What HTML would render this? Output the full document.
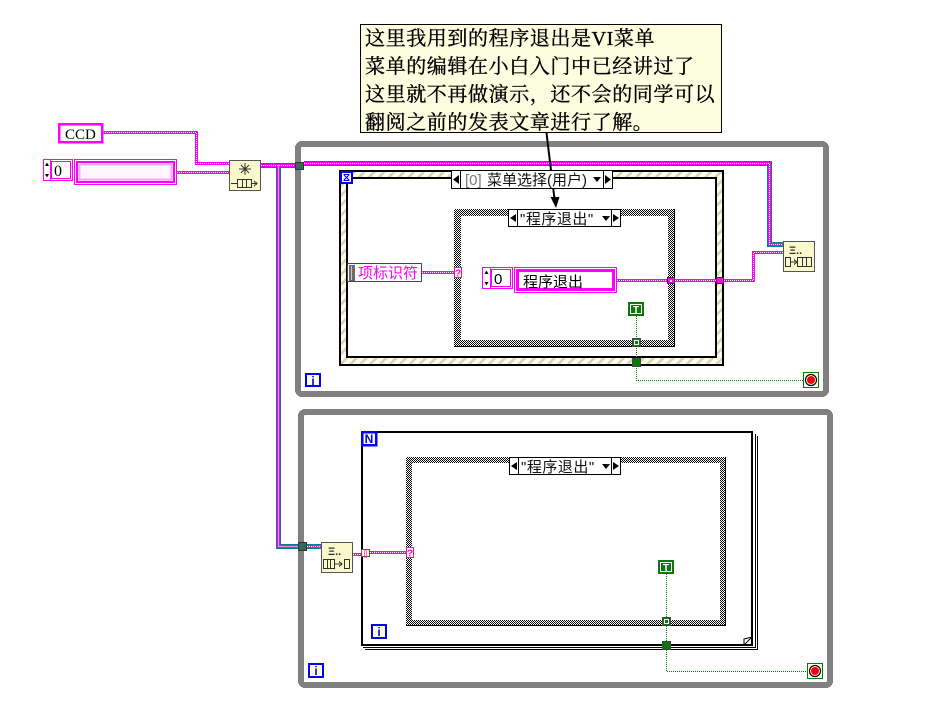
<!DOCTYPE html>
<html><head><meta charset="utf-8">
<style>
html,body{margin:0;padding:0;background:#fff;width:938px;height:727px;overflow:hidden}
svg{display:block}
.s{font-family:"Liberation Sans","Noto Sans CJK SC",sans-serif}
.r{font-family:"Liberation Serif","Noto Serif CJK SC",serif}
</style></head><body>
<svg width="938" height="727" viewBox="0 0 938 727" xmlns="http://www.w3.org/2000/svg" shape-rendering="crispEdges">
<defs>
<pattern id="hatch" width="7" height="7" patternUnits="userSpaceOnUse" patternTransform="rotate(45)">
<rect width="7" height="7" fill="#fefce8"/><rect width="2.5" height="7" fill="#d6d3bc"/>
</pattern>
<pattern id="chk" width="2" height="2" patternUnits="userSpaceOnUse">
<rect width="2" height="2" fill="#fff"/><rect width="1" height="1" fill="#000"/><rect x="1" y="1" width="1" height="1" fill="#000"/>
</pattern>
</defs>

<!-- while loops -->
<rect x="298" y="144" width="528" height="250" rx="4" fill="none" stroke="#808080" stroke-width="6"/>
<rect x="301" y="412" width="529" height="273" rx="4" fill="none" stroke="#808080" stroke-width="6"/>

<!-- event structure -->
<rect x="340" y="171" width="383" height="194" fill="url(#hatch)" stroke="#000" stroke-width="2"/>
<rect x="347" y="178" width="369" height="179" fill="#fff" stroke="#000" stroke-width="2"/>

<!-- inner case (top) -->
<rect x="454" y="209" width="221" height="138" fill="url(#chk)"/>
<rect x="461" y="216" width="207" height="124" fill="#fff"/>
<line x1="674.5" y1="209" x2="674.5" y2="347" stroke="#000"/>
<line x1="454" y1="346.5" x2="675" y2="346.5" stroke="#000"/>

<!-- for loop -->
<polyline points="757.5,436 757.5,649.5 365,649.5" fill="none" stroke="#000"/>
<polyline points="755.5,434 755.5,647.5 363,647.5" fill="none" stroke="#000"/>
<rect x="362" y="432" width="390" height="213" fill="#fff" stroke="#000" stroke-width="2"/>
<path d="M744,645 L752,637 M744,645 L744,639 Q748,638 752,637" fill="none" stroke="#000" shape-rendering="auto"/>

<!-- inner case (bottom) -->
<rect x="406" y="457" width="320" height="169" fill="url(#chk)"/>
<rect x="412" y="463" width="308" height="157" fill="#fff"/>
<line x1="725.5" y1="457" x2="725.5" y2="626" stroke="#000"/>
<line x1="406" y1="625.5" x2="726" y2="625.5" stroke="#000"/>

<!-- queue wires -->
<g fill="none">
<path d="M261,165.5 H296 M304,163.5 H769.5 V244.5 H783 M278.5,165.5 V546.5 H299 M307,546.5 H321" stroke="#008080" stroke-width="5"/>
<path d="M261,165.5 H296 M304,163.5 H769.5 V244.5 H783 M278.5,165.5 V546.5 H299 M307,546.5 H321" stroke="#ff00ff" stroke-width="3"/>
<path d="M261,165.5 H296 M304,163.5 H769.5 V244.5 H783 M278.5,165.5 V546.5 H299 M307,546.5 H321" stroke="#fff" stroke-width="1" stroke-dasharray="1 1"/>
</g>

<!-- string wires -->
<g fill="none">
<path d="M103,132.5 H196.5 V163.5 H229 M177,172.5 H229 M422,272.5 H454 M617,280.5 H667 M675,280.5 H716 M724,280.5 H753.5 V252.5 H783 M353,554.5 H361 M370,552.5 H406" stroke="#ff00ff" stroke-width="3"/>
<path d="M103,132.5 H196.5 V163.5 H229 M177,172.5 H229 M422,272.5 H454 M617,280.5 H667 M675,280.5 H716 M724,280.5 H753.5 V252.5 H783 M353,554.5 H361 M370,552.5 H406" stroke="#fff" stroke-width="1" stroke-dasharray="1 1"/>
</g>

<!-- boolean wires -->
<g fill="none" stroke="#008000" stroke-width="1" stroke-dasharray="1 1">
<path d="M636.5,316 V380.5 H803"/>
<path d="M666.5,574 V671.5 H807"/>
</g>

<!-- comment -->
<rect x="360.5" y="24.5" width="361" height="108" fill="#fdfde0" stroke="#000"/>
<g class="r" font-size="20" fill="#000" stroke="#000" stroke-width="0.35" style="letter-spacing:0.6px">
<text x="365" y="45">这里我用到的程序退出是VI菜单</text>
<text x="365" y="73">菜单的编辑在小白入门中已经讲过了</text>
<text x="365" y="101">这里就不再做演示，还不会的同学可以</text>
<text x="365" y="129">翻阅之前的发表文章进行了解。</text>
</g>
<g shape-rendering="auto">
<line x1="546.5" y1="133" x2="554.5" y2="199" stroke="#000" stroke-width="2"/>
<polygon points="550.5,197 559.5,197 556,208" fill="#000"/>
</g>

<!-- event selector -->
<rect x="451.5" y="170.5" width="161" height="18" fill="#fff" stroke="#000"/>
<line x1="460.5" y1="170" x2="460.5" y2="189" stroke="#000"/>
<line x1="603.5" y1="170" x2="603.5" y2="189" stroke="#000"/>
<g shape-rendering="auto" fill="#000">
<polygon points="459,175 459,184 453,179.5"/>
<polygon points="605,175 605,184 611,179.5"/>
<polygon points="593,177 601,177 597,182"/>
</g>
<text class="s" x="465" y="185" font-size="15" fill="#7a7a7a">[0]</text>
<text class="s" x="487" y="185" font-size="15" fill="#111">菜单选择(用户)</text>

<!-- event hourglass -->
<rect x="341" y="172" width="11" height="11" fill="#fffde0" stroke="#0000ff" stroke-width="2"/>
<path d="M343.5,174.5 H349.5 M343.5,180.5 H349.5 M344,175 L346.5,177.5 L349,175 M344,180 L346.5,177.5 L349,180" stroke="#0000ff" fill="none" shape-rendering="auto"/>

<!-- case selector top -->
<rect x="508.5" y="209.5" width="112" height="17" fill="#fff" stroke="#000"/>
<line x1="517.5" y1="209" x2="517.5" y2="227" stroke="#000"/>
<line x1="611.5" y1="209" x2="611.5" y2="227" stroke="#000"/>
<g shape-rendering="auto" fill="#000">
<polygon points="516,214 516,222 510,218"/>
<polygon points="613,214 613,222 619,218"/>
<polygon points="602,216 610,216 606,221"/>
</g>
<text class="s" x="520" y="224" font-size="15" fill="#111" style="letter-spacing:0.5px">"程序退出"</text>

<!-- case selector bottom -->
<rect x="509.5" y="457.5" width="111" height="17" fill="#fff" stroke="#000"/>
<line x1="518.5" y1="457" x2="518.5" y2="475" stroke="#000"/>
<line x1="611.5" y1="457" x2="611.5" y2="475" stroke="#000"/>
<g shape-rendering="auto" fill="#000">
<polygon points="517,462 517,470 511,466"/>
<polygon points="613,462 613,470 619,466"/>
<polygon points="602,464 610,464 606,469"/>
</g>
<text class="s" x="521" y="472" font-size="15" fill="#111" style="letter-spacing:0.5px">"程序退出"</text>

<!-- 项标识符 -->
<rect x="347.5" y="263.5" width="74" height="18" fill="#fff" stroke="#444"/>
<rect x="349" y="265" width="6" height="16" fill="#6a6a6a"/>
<line x1="351.5" y1="266" x2="351.5" y2="280" stroke="#c8c8c8"/>
<text class="s" x="358" y="278" font-size="15" fill="#ff00ff">项标识符</text>
<rect x="454.5" y="267.5" width="7" height="10" fill="#ffffc8" stroke="#ff00ff"/>
<text class="s" x="458" y="276.5" font-size="10" font-weight="bold" fill="#ff00ff" text-anchor="middle">?</text>

<!-- array constant -->
<rect x="482.5" y="267.5" width="30" height="21" fill="#fff" stroke="#ff00ff"/>
<line x1="490.5" y1="268" x2="490.5" y2="288" stroke="#ff00ff"/>
<g shape-rendering="auto" fill="#000"><polygon points="484.5,274 488.5,274 486.5,270.5"/><polygon points="484.5,282 488.5,282 486.5,285.5"/></g>
<rect x="491.5" y="269.5" width="19" height="17" fill="#fff" stroke="#ff00ff"/>
<text class="s" x="494" y="284" font-size="15" fill="#000">0</text>
<rect x="514.5" y="267.5" width="102" height="25" fill="#fff" stroke="#ff00ff"/>
<rect x="517.5" y="270.5" width="96" height="19" fill="#fff" stroke="#ff00ff" stroke-width="3"/>
<text class="s" x="523" y="287" font-size="15" fill="#000">程序退出</text>

<!-- tunnels string -->
<rect x="667.5" y="277.5" width="7" height="6" fill="#ff00ff" stroke="#333"/>
<rect x="670" y="280" width="2" height="2" fill="#fff"/>
<rect x="716.5" y="277.5" width="7" height="6" fill="#ff00ff" stroke="#333"/>

<!-- queue tunnels -->
<rect x="295.5" y="162.5" width="8" height="7" fill="#1e6e6e" stroke="#333"/>
<rect x="298.5" y="542.5" width="8" height="8" fill="#1e6e6e" stroke="#333"/>

<!-- T constants & bool tunnels -->
<rect x="628" y="302" width="16" height="14" fill="#0b7a0b"/>
<rect x="630.5" y="304.5" width="11" height="9" fill="none" stroke="#fff"/>
<text class="s" x="636" y="313" font-size="10" font-weight="bold" fill="#fff" text-anchor="middle">T</text>
<rect x="632.5" y="338.5" width="8" height="8" fill="#107810" stroke="#444"/>
<rect x="634.5" y="340.5" width="4" height="4" fill="#107810" stroke="#fff"/>
<rect x="632.5" y="358.5" width="8" height="8" fill="#0a7a0a" stroke="#444"/>

<rect x="658" y="560" width="16" height="14" fill="#0b7a0b"/>
<rect x="660.5" y="562.5" width="11" height="9" fill="none" stroke="#fff"/>
<text class="s" x="666" y="571" font-size="10" font-weight="bold" fill="#fff" text-anchor="middle">T</text>
<rect x="662.5" y="617.5" width="8" height="8" fill="#107810" stroke="#444"/>
<rect x="664.5" y="619.5" width="4" height="4" fill="#107810" stroke="#fff"/>
<rect x="662.5" y="641.5" width="8" height="8" fill="#0a7a0a" stroke="#444"/>

<!-- stop terminals -->
<rect x="803.5" y="372.5" width="15" height="15" fill="#fffde8" stroke="#008000"/>
<g shape-rendering="auto"><circle cx="811" cy="380" r="5.5" fill="#fff" stroke="#000" stroke-width="1.2"/><circle cx="811" cy="380" r="4" fill="#f00"/></g>
<rect x="807.5" y="663.5" width="15" height="15" fill="#fffde8" stroke="#008000"/>
<g shape-rendering="auto"><circle cx="815" cy="671" r="5.5" fill="#fff" stroke="#000" stroke-width="1.2"/><circle cx="815" cy="671" r="4" fill="#f00"/></g>

<!-- iteration terminals -->
<rect x="306" y="374" width="14" height="12" fill="#fffde0" stroke="#0000ff" stroke-width="2"/>
<text class="s" x="313" y="385" font-size="12" font-weight="bold" fill="#0000ff" text-anchor="middle">i</text>
<rect x="309" y="664" width="14" height="13" fill="#fffde0" stroke="#0000ff" stroke-width="2"/>
<text class="s" x="316" y="675" font-size="12" font-weight="bold" fill="#0000ff" text-anchor="middle">i</text>
<rect x="372" y="625" width="14" height="13" fill="#fffde0" stroke="#0000ff" stroke-width="2"/>
<text class="s" x="379" y="636" font-size="12" font-weight="bold" fill="#0000ff" text-anchor="middle">i</text>
<rect x="362" y="432" width="14" height="13" fill="#fffde0" stroke="#0000ff" stroke-width="2.5"/>
<text class="s" x="369" y="443" font-size="12" font-weight="bold" fill="#0000ff" text-anchor="middle">N</text>

<!-- for loop tunnels -->
<rect x="361.5" y="549.5" width="8" height="7" fill="#ffffc8" stroke="#555"/>
<text class="s" x="365.5" y="556" font-size="7" fill="#ff00ff" text-anchor="middle">[]</text>
<rect x="406.5" y="547.5" width="7" height="10" fill="#ffffc8" stroke="#ff00ff"/>
<text class="s" x="410" y="556.5" font-size="10" font-weight="bold" fill="#ff00ff" text-anchor="middle">?</text>

<!-- CCD constant -->
<rect x="59" y="124" width="43" height="18" fill="#fff" stroke="#ff00ff" stroke-width="2.5"/>
<text class="r" x="65" y="139" font-size="15" fill="#000">CCD</text>

<!-- array control -->
<rect x="43.5" y="159.5" width="29" height="21" fill="#fff" stroke="#ff00ff"/>
<line x1="50.5" y1="160" x2="50.5" y2="180" stroke="#ff00ff"/>
<g shape-rendering="auto" fill="#000"><polygon points="45,166 49,166 47,162.5"/><polygon points="45,174 49,174 47,177.5"/></g>
<rect x="51.5" y="161.5" width="19" height="17" fill="#fff" stroke="#ff00ff"/>
<text class="r" x="54" y="176" font-size="16" fill="#000">0</text>
<rect x="74.5" y="159.5" width="102" height="25" fill="#fff" stroke="#ff00ff"/>
<rect x="77" y="162" width="97" height="20" fill="#fbe6fb" stroke="#ff00ff" stroke-width="2"/>
<rect x="79.5" y="164.5" width="92" height="15" fill="#fff6fd" stroke="#f8a8f8" stroke-width="2"/>

<!-- obtain queue node -->
<rect x="229.5" y="160.5" width="31" height="30" fill="#fbf8cc" stroke="#555"/>
<path d="M245,163 V175 M239,169 H251 M241,165 L249,173 M249,165 L241,173" stroke="#333" fill="none" shape-rendering="auto"/>
<path d="M231,183.5 H237 M252,183.5 H256 M254,181 L257,183.5 L254,186" stroke="#333" fill="none"/>
<rect x="237.5" y="179.5" width="14" height="8" fill="none" stroke="#333"/>
<path d="M242.5,180 V187 M246.5,180 V187" stroke="#333"/>

<!-- release queue node (right) -->
<rect x="783.5" y="241.5" width="31" height="30" fill="#fbf8cc" stroke="#555"/>
<text class="s" x="789" y="254" font-size="11" font-weight="bold" fill="#333">Ξ..</text>
<rect x="785.5" y="257.5" width="5" height="9" fill="none" stroke="#333"/>
<path d="M791,262 H796 M794,259.5 L797,262 L794,264.5" stroke="#333" fill="none"/>
<rect x="797.5" y="257.5" width="14" height="9" fill="none" stroke="#333"/>
<path d="M802.5,258 V266 M806.5,258 V266" stroke="#333"/>

<!-- bottom node -->
<rect x="321.5" y="542.5" width="31" height="30" fill="#fbf8cc" stroke="#555"/>
<text class="s" x="328" y="555" font-size="11" font-weight="bold" fill="#333">Ξ..</text>
<rect x="323.5" y="559.5" width="11" height="9" fill="none" stroke="#333"/>
<path d="M327.5,560 V568 M330.5,560 V568" stroke="#333"/>
<path d="M335,564 H341 M339,561.5 L342,564 L339,566.5" stroke="#333" fill="none"/>
<rect x="344.5" y="559.5" width="5" height="9" fill="none" stroke="#333"/>
</svg>
</body></html>
